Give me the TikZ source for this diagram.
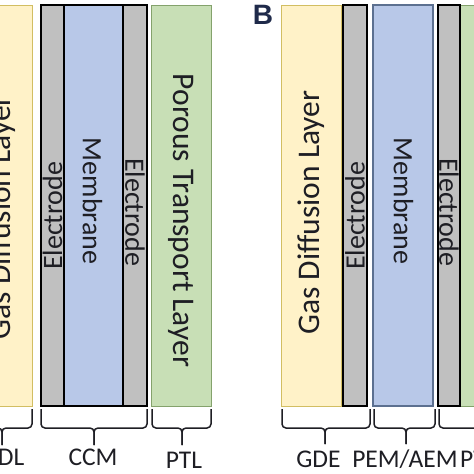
\documentclass[tikz,border=0pt]{standalone}
\usepackage{fontspec}
\setmainfont{Carlito}
\newfontfamily\labelfont{Liberation Sans}
\definecolor{gdlfill}{HTML}{FFF2C8}
\definecolor{gdlline}{HTML}{D2BE62}
\definecolor{elfill}{HTML}{C0C0C0}
\definecolor{memfill}{HTML}{B8C8E8}
\definecolor{memline}{HTML}{5C7090}
\definecolor{ptlfill}{HTML}{C8DFB6}
\definecolor{ptlline}{HTML}{84A26C}
\definecolor{txt}{HTML}{1E1E24}
\definecolor{bcol}{HTML}{1F2A4A}
\tikzset{
  gdlbox/.style={fill=gdlfill,draw=gdlline,line width=1pt},
  elbox/.style={fill=elfill,draw=black,line width=1.4pt},
  membox/.style={fill=memfill,draw=memline,line width=1.2pt},
  ptlbox/.style={fill=ptlfill,draw=ptlline,line width=1pt},
  bigtxt/.style={inner sep=0pt,text=txt,font=\fontsize{31.5}{36}\selectfont},
  midtxt/.style={inner sep=0pt,text=txt,font=\fontsize{28}{32}\selectfont},
  lbl/.style={inner sep=0pt,anchor=base,text=txt,font=\fontsize{25.5}{30}\selectfont},
  bracepath/.style={draw=txt,line width=1.5pt,rounded corners=4pt}
}
\begin{document}
\begin{tikzpicture}[x=1pt,y=-1pt]
\useasboundingbox (0,0) rectangle (474,474);
\clip (0,0) rectangle (474,474);
% ---------------- left panel ----------------
\path[gdlbox] (-28,5) rectangle (32,406);
\path[elbox] (41,5) rectangle (147,406);
\path[fill=memfill] (64,5) rectangle (123,406);
\path[elbox,fill=none] (41,5) rectangle (147,406);
\draw[black,line width=1.4pt] (64,5) -- (64,406);
\draw[black,line width=1.4pt] (123,5) -- (123,406);
\path[ptlbox] (151,5) rectangle (211,406);

\node[bigtxt,rotate=90] (lgdl) at (2,217) {Gas Diffusion Layer};
\node[midtxt,rotate=90] (lel1) at (52.5,216) {Electrode};
\node[midtxt,rotate=-90] (lmem) at (92.5,201) {Membrane};
\node[midtxt,rotate=-90] (lel2) at (135,212) {Electrode};
\node[bigtxt,rotate=-90] (lptl) at (181,220.5) {Porous Transport Layer};

% braces left
\coordinate (b1a) at (-28,409); \coordinate (b1b) at (32,409); \coordinate (b1m) at (2,428); \coordinate (b1t) at (2,445);
\draw[bracepath] (b1a) |- (b1m) -- (b1t);
\draw[bracepath] (b1b) |- (b1m) -- (b1t);
\coordinate (b2a) at (41,409); \coordinate (b2b) at (147,409); \coordinate (b2m) at (94,428); \coordinate (b2t) at (94,445);
\draw[bracepath] (b2a) |- (b2m) -- (b2t);
\draw[bracepath] (b2b) |- (b2m) -- (b2t);
\coordinate (b3a) at (152,409); \coordinate (b3b) at (211,409); \coordinate (b3m) at (182,428); \coordinate (b3t) at (182,445);
\draw[bracepath] (b3a) |- (b3m) -- (b3t);
\draw[bracepath] (b3b) |- (b3m) -- (b3t);

\node[lbl] (lgdllbl) at (3,465) {GDL};
\node[lbl] (lccm) at (93,465) {CCM};
\node[lbl] (lptllbl) at (184,468) {PTL};

% ---------------- right panel ----------------
\node[inner sep=0pt,text=bcol,font={\labelfont\bfseries\fontsize{28}{32}\selectfont}] (blabel) at (263,15) {B};

\path[gdlbox] (281,5) rectangle (341,406);
\path[elbox] (343,5) rectangle (367,406);
\path[membox] (373,5) rectangle (433,406);
\path[ptlbox] (460,5) rectangle (520,406);
\path[elbox] (438,5) rectangle (460,406);

\node[bigtxt,rotate=90] (rgdl) at (311,212.5) {Gas Diffusion Layer};
\node[midtxt,rotate=90] (rel1) at (355,216) {Electrode};
\node[midtxt,rotate=-90] (rmem) at (403.5,201) {Membrane};
\node[midtxt,rotate=-90] (rel2) at (449,212) {Electrode};

\coordinate (b4a) at (282,409); \coordinate (b4b) at (370,409); \coordinate (b4m) at (325,428); \coordinate (b4t) at (325,444);
\draw[bracepath] (b4a) |- (b4m) -- (b4t);
\draw[bracepath] (b4b) |- (b4m) -- (b4t);
\coordinate (b5a) at (374,409); \coordinate (b5b) at (435,409); \coordinate (b5m) at (406,428); \coordinate (b5t) at (406,444);
\draw[bracepath] (b5a) |- (b5m) -- (b5t);
\draw[bracepath] (b5b) |- (b5m) -- (b5t);
\coordinate (b6a) at (439,409); \coordinate (b6b) at (520,409); \coordinate (b6m) at (479,428); \coordinate (b6t) at (479,444);
\draw[bracepath] (b6a) |- (b6m) -- (b6t);
\draw[bracepath] (b6b) |- (b6m) -- (b6t);

\node[lbl] (rgde) at (318.5,467) {GDE};
\node[lbl] (rpem) at (405,467) {PEM/AEM};
\node[lbl,anchor=base west] (rptl) at (460,467) {PTL};
\end{tikzpicture}
\end{document}
